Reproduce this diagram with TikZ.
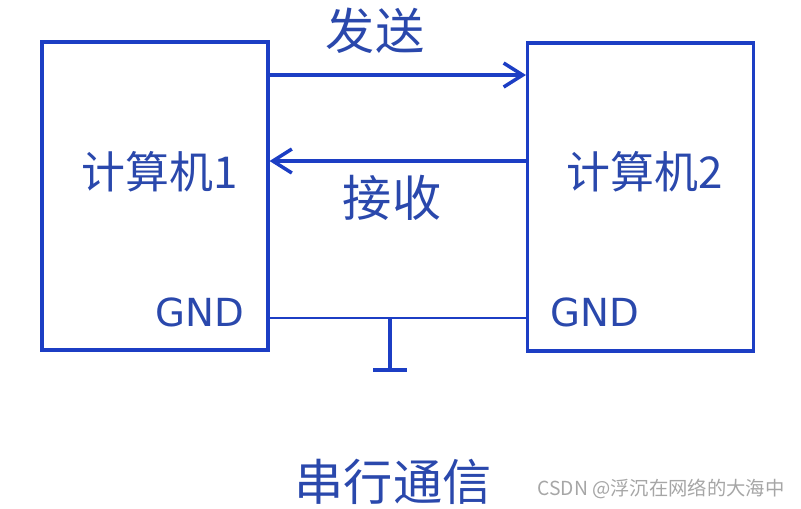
\documentclass[tikz,border=0pt]{standalone}
\usepackage{fontspec}
\usetikzlibrary{arrows.meta}
\newfontfamily\cjk{Noto Sans CJK SC}
\newfontfamily\gndfont{DejaVu Sans}
\definecolor{lineblue}{RGB}{28,62,196}
\definecolor{textblue}{RGB}{42,72,172}
\tikzset{
  pcbox/.style={draw=lineblue, line width=1.8pt, minimum width=4.52cm, minimum height=6.16cm},
  cntext/.style={text=textblue, font=\cjk\fontsize{25}{25}\selectfont, inner sep=0pt},
  bigtext/.style={text=textblue, font=\cjk\fontsize{28}{28}\selectfont, inner sep=0pt},
  gndtext/.style={text=textblue, font=\gndfont\fontsize{22}{22}\selectfont, inner sep=0pt},
  wire/.style={draw=lineblue, line width=2pt},
}

\begin{document}
\begin{tikzpicture}[x=0.02cm, y=-0.02cm, >={Straight Barb[length=3.8mm, width=4.8mm]}]
  \useasboundingbox (0,0) rectangle (801,508);
  \node[pcbox] (pc1) at (155,196) {};
  \node[pcbox] (pc2) at (640.5,197) {};
  \node[cntext] (name1) at (160,172) {计算机1};
  \node[cntext] (name2) at (645,172) {计算机2};
  \node[gndtext] (gnd1) at (200,312) {GND};
  \node[gndtext] (gnd2) at (595,312) {GND};
  % send / receive lines
  \draw[wire, ->] ([yshift=2.42cm]pc1.east) -- ([yshift=2.42cm]pc1.east -| pc2.west);
  \draw[wire, ->] ([yshift=0.72cm]pc2.west) -- ([yshift=0.72cm]pc2.west -| pc1.east);
  \node[bigtext] (send) at (375,31) {发送};
  \node[bigtext] (recv) at (392,198) {接收};
  % common ground
  \draw[wire, line width=1.5pt] ([yshift=-2.44cm]pc1.east) coordinate (g1) -- (g1 -| pc2.west);
  \coordinate (gtop) at (390,318);
  \coordinate (gbot) at (390,370);
  \draw[wire] (gtop) -- (gbot);
  \draw[wire] ([xshift=-0.34cm]gbot) -- ([xshift=0.34cm]gbot);
  \node[bigtext] (title) at (393,482) {串行通信};
  \node[text=gray!70, font=\cjk\fontsize{11}{11}\selectfont, inner sep=0pt] (mark) at (661,489) {CSDN @浮沉在网络的大海中};
\end{tikzpicture}
\end{document}
